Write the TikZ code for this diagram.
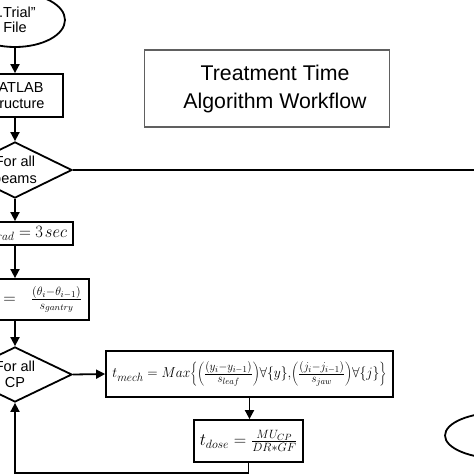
\documentclass[tikz,border=0pt]{standalone}
\usepackage{fontspec}
\usepackage{graphicx}
\setmainfont{Liberation Sans}
\usetikzlibrary{shapes.geometric,arrows.meta}
\DeclareMathSizes{16}{16}{12}{9}
\DeclareMathSizes{15.5}{15.5}{12}{9}
\begin{document}
\begin{tikzpicture}[x=1pt,y=-1pt,
  line width=1.8pt,
  flowbox/.style={draw, rectangle, inner sep=0pt, font=\fontsize{14.5}{16.5}\selectfont, align=center},
  decision/.style={draw, diamond, inner sep=0pt, aspect=2, font=\fontsize{14.5}{16.5}\selectfont, align=center},
  terminal/.style={draw, ellipse, inner sep=0pt, font=\fontsize{14.5}{16.5}\selectfont, align=center},
  mathbox/.style={draw, rectangle, inner xsep=6pt, inner ysep=0pt, font=\fontsize{16}{19}\selectfont},
  titlebox/.style={draw=gray!75!black, line width=1.3pt, rectangle},
  titletext/.style={font=\fontsize{21.3}{28}\selectfont, align=center, inner sep=0pt},
  arr/.style={-{Triangle[length=9pt,width=9pt]}},
  ]
\useasboundingbox (0,0) rectangle (474,474);
\clip (0,0) rectangle (474,474);
\fill[white] (0,0) rectangle (474,474);

\node[terminal, minimum width=100, minimum height=54] (file) at (15,20) {\raisebox{-4pt}{".Trial"}\\[-1pt]\raisebox{-4pt}{File}};
\node[flowbox, minimum width=96, minimum height=43] (mat) at (15,95.5) {MATLAB\\Structure};
\node[decision, minimum width=114, minimum height=56] (beams) at (15,170) {For all\\beams};
\node[mathbox, minimum height=23, text width=150, align=right] (rad) at (-8,233.5) {\resizebox{76pt}{\height}{$t_{rad} = 3\mkern2mu sec$}};
\node[mathbox, inner xsep=7pt, minimum height=41, text width=206, align=right] (gan) at (-21,299.5) {$t_{gantry} = \frac{(\theta_i-\theta_{i-1})}{s_{gantry}}$};
\node[decision, minimum width=114, minimum height=55] (cp) at (15,374.5) {For all\\CP};
\node[mathbox, minimum width=287, minimum height=46, font=\fontsize{15.5}{18}\selectfont] (mech) at (249.5,374) {\resizebox{274pt}{\height}{$t_{mech} = Max{\left\{{\left(\frac{(y_i-y_{i-1})}{s_{leaf}}\right)}\forall\{y\}{,}{\left(\frac{(j_i-j_{i-1})}{s_{jaw}}\right)}\forall\{j\}\right\}}$}};
\node[mathbox, minimum width=101, minimum height=42] (dose) at (248.5,441) {$t_{dose} = \frac{MU_{CP}}{DR*GF}$};
\node[terminal, minimum width=110, minimum height=46] (endn) at (500,435.5) {};
\node[titlebox, minimum width=245, minimum height=77] (title) at (267,88.5) {};
\node[titletext] (titlet) at ([xshift=8pt]title.center) {Treatment Time\\Algorithm Workflow};

\coordinate (offr) at (490,170);
\draw[arr] (file.south) -- (mat.north);
\draw[arr] (mat.south) -- (beams.north);
\draw (beams.east) -- (offr);
\draw[arr] (beams.south) -- (beams.south |- rad.north);
\draw[arr] (beams.south |- rad.south) -- (beams.south |- gan.north);
\draw[arr] (beams.south |- gan.south) -- (cp.north);
\draw[arr] (cp.east) -- (mech.west);
\draw[arr] (mech.south) -- (mech.south |- dose.north);
\draw[arr] (dose.south) -- ++(0,10) -| (cp.south);
\end{tikzpicture}
\end{document}
